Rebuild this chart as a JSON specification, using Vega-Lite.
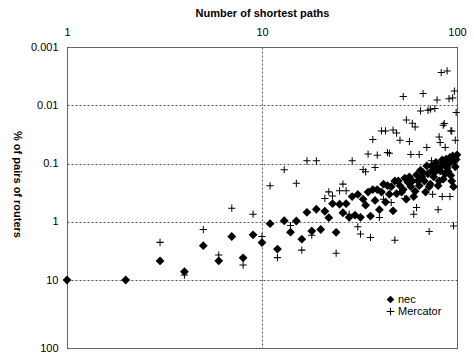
{
  "$schema": "https://vega.github.io/schema/vega-lite/v6.json",
  "width": 390,
  "height": 301,
  "autosize": {"type": "none"},
  "padding": {"left": 67, "top": 47, "right": 17, "bottom": 5},
  "background": "white",
  "config": {"font": "Liberation Sans", "view": {"stroke": "#777", "strokeWidth": 1}},
  "datasets": {
    "mercator": [
      {"k":3,"pct":2.26},{"k":4,"pct":8.24},{"k":5,"pct":1.36},{"k":6,"pct":3.74},{"k":7,"pct":0.585},{"k":8,"pct":5.55},{"k":9,"pct":0.74},{"k":10,"pct":1.8},
      {"k":11,"pct":0.242},{"k":12,"pct":4.13},{"k":13,"pct":0.128},{"k":14,"pct":1.16},{"k":15,"pct":0.219},{"k":16,"pct":3.07},{"k":17,"pct":0.09},{"k":18,"pct":1.7},{"k":19,"pct":0.09},
      {"k":21,"pct":0.398},{"k":22,"pct":0.307},{"k":23,"pct":0.36},{"k":24,"pct":3.46},{"k":25,"pct":0.295},{"k":26,"pct":0.226},{"k":27,"pct":0.295},{"k":28,"pct":0.74},{"k":29,"pct":0.09},
      {"k":31,"pct":1.22},{"k":32,"pct":1.63},{"k":33,"pct":0.127},{"k":34,"pct":0.139},{"k":35,"pct":0.069},{"k":36,"pct":1.86},{"k":37,"pct":0.0387},{"k":38,"pct":0.117},{"k":39,"pct":0.072},{"k":40,"pct":0.843},
      {"k":41,"pct":0.0276},{"k":42,"pct":0.41},{"k":43,"pct":0.0276},{"k":44,"pct":0.0647},{"k":45,"pct":0.0665},{"k":46,"pct":0.467},{"k":47,"pct":0.0266},{"k":48,"pct":2.07},{"k":49,"pct":0.03},
      {"k":51,"pct":0.0398},{"k":53,"pct":0.0071},{"k":54,"pct":0.4},{"k":55,"pct":0.0179},{"k":57,"pct":0.042},{"k":58,"pct":0.07},{"k":59,"pct":0.0204},{"k":60,"pct":0.74},
      {"k":61,"pct":0.0236},{"k":62,"pct":0.57},{"k":64,"pct":0.07},{"k":65,"pct":0.0125},{"k":67,"pct":0.0063},{"k":70,"pct":0.053},
      {"k":71,"pct":0.0122},{"k":72,"pct":1.47},{"k":73,"pct":0.0117},{"k":74,"pct":0.09},{"k":75,"pct":0.337},{"k":77,"pct":0.0114},{"k":79,"pct":0.0081},{"k":80,"pct":0.62},
      {"k":81,"pct":0.035},{"k":82,"pct":0.0437},{"k":83,"pct":0.00275},{"k":84,"pct":0.37},{"k":85,"pct":0.022},{"k":86,"pct":0.0206},{"k":87,"pct":0.053},{"k":89,"pct":0.00258},
      {"k":91,"pct":0.0077},{"k":92,"pct":0.37},{"k":93,"pct":0.0276},{"k":94,"pct":0.0276},{"k":95,"pct":0.0075},{"k":96,"pct":1.18},{"k":97,"pct":0.0057},{"k":98,"pct":0.0398},{"k":99,"pct":0.0133}
    ],
    "nec": [
      {"k":1,"pct":10},{"k":2,"pct":10},{"k":3,"pct":4.7},{"k":4,"pct":7.2},{"k":5,"pct":2.57},{"k":6,"pct":4.69},{"k":7,"pct":1.79},{"k":8,"pct":4.16},{"k":9,"pct":1.68},{"k":10,"pct":2.28},
      {"k":11,"pct":1.08},{"k":12,"pct":2.95},{"k":13,"pct":0.96},{"k":14,"pct":1.51},{"k":15,"pct":0.97},{"k":16,"pct":1.99},{"k":17,"pct":0.69},{"k":18,"pct":1.44},{"k":19,"pct":0.61},{"k":20,"pct":1.36},
      {"k":21,"pct":0.66},{"k":22,"pct":0.85},{"k":23,"pct":0.49},{"k":24,"pct":1.52},{"k":25,"pct":0.5},{"k":26,"pct":0.7},{"k":27,"pct":0.49},{"k":28,"pct":0.84},{"k":29,"pct":0.37},{"k":30,"pct":0.77},
      {"k":31,"pct":0.34},{"k":32,"pct":0.84},{"k":33,"pct":0.41},{"k":34,"pct":0.52},{"k":35,"pct":0.31},{"k":36,"pct":0.8},{"k":37,"pct":0.28},{"k":38,"pct":0.43},{"k":39,"pct":0.28},{"k":40,"pct":0.62},
      {"k":41,"pct":0.31},{"k":42,"pct":0.226},{"k":43,"pct":0.46},{"k":44,"pct":0.24},{"k":45,"pct":0.337},{"k":46,"pct":0.25},{"k":47,"pct":0.65},{"k":48,"pct":0.2},{"k":49,"pct":0.33},{"k":50,"pct":0.2},
      {"k":51,"pct":0.24},{"k":52,"pct":0.31},{"k":53,"pct":0.28},{"k":54,"pct":0.178},{"k":55,"pct":0.41},{"k":56,"pct":0.21},{"k":57,"pct":0.17},{"k":58,"pct":0.25},{"k":59,"pct":0.2},{"k":60,"pct":0.37},
      {"k":61,"pct":0.3},{"k":62,"pct":0.157},{"k":63,"pct":0.2},{"k":64,"pct":0.24},{"k":65,"pct":0.13},{"k":66,"pct":0.17},{"k":67,"pct":0.143},{"k":68,"pct":0.2},{"k":69,"pct":0.31},{"k":70,"pct":0.11},
      {"k":71,"pct":0.15},{"k":72,"pct":0.25},{"k":73,"pct":0.226},{"k":74,"pct":0.11},{"k":75,"pct":0.13},{"k":76,"pct":0.17},{"k":77,"pct":0.14},{"k":78,"pct":0.096},{"k":79,"pct":0.12},{"k":80,"pct":0.24},
      {"k":81,"pct":0.2},{"k":82,"pct":0.134},{"k":83,"pct":0.11},{"k":84,"pct":0.087},{"k":85,"pct":0.186},{"k":86,"pct":0.1},{"k":87,"pct":0.15},{"k":88,"pct":0.084},{"k":89,"pct":0.12},{"k":90,"pct":0.137},
      {"k":91,"pct":0.1},{"k":92,"pct":0.079},{"k":93,"pct":0.16},{"k":94,"pct":0.2},{"k":95,"pct":0.074},{"k":96,"pct":0.25},{"k":97,"pct":0.09},{"k":98,"pct":0.114},{"k":99,"pct":0.085},{"k":100,"pct":0.071}
    ]
  },
  "layer": [
    {
      "data": {"name": "mercator"},
      "transform": [{"calculate": "'Mercator'", "as": "series"}],
      "mark": {"type": "point", "filled": true, "size": 52, "color": "black", "strokeWidth": 0, "opacity": 1},
      "encoding": {
        "x": {"field": "k", "type": "quantitative"},
        "y": {"field": "pct", "type": "quantitative"},
        "shape": {"field": "series", "type": "nominal"}
      }
    },
    {
      "data": {"name": "nec"},
      "transform": [{"calculate": "'nec'", "as": "series"}],
      "mark": {"type": "point", "filled": true, "size": 78, "color": "black", "strokeWidth": 0, "opacity": 1},
      "encoding": {
        "x": {"field": "k", "type": "quantitative"},
        "y": {"field": "pct", "type": "quantitative"},
        "shape": {"field": "series", "type": "nominal"}
      }
    }
  ],
  "encoding": {
    "x": {
      "field": "k", "type": "quantitative",
      "scale": {"type": "log", "domain": [1, 100], "nice": false},
      "axis": {"orient": "top", "values": [1, 10, 100], "format": "~g", "title": "Number of shortest paths",
        "ticks": false, "domain": false, "grid": true, "gridDash": [2, 2], "gridColor": "#555",
        "labelFontSize": 11, "labelColor": "black", "labelPadding": 10, "labelFlush": false,
        "titleFontSize": 11, "titleFontWeight": "bold", "titleColor": "black", "titlePadding": 8}
    },
    "y": {
      "field": "pct", "type": "quantitative",
      "scale": {"type": "log", "domain": [0.001, 10, 100], "range": [0, 233, 301], "nice": false},
      "axis": {"values": [0.001, 0.01, 0.1, 1, 10, 100], "format": "~g", "title": "% of pairs of routers",
        "ticks": false, "domain": false, "grid": true, "gridDash": [2, 2], "gridColor": "#555",
        "labelFontSize": 11, "labelColor": "black", "labelPadding": 9,
        "titleFontSize": 11, "titleFontWeight": "bold", "titleColor": "black", "titleAngle": 90,
        "titleX": -51, "titleY": 137, "titleAlign": "center", "titleBaseline": "middle"}
    },
    "shape": {
      "field": "series", "type": "nominal",
      "scale": {"domain": ["nec", "Mercator"], "range": ["diamond", "M-1,-0.14H-0.14V-1H0.14V-0.14H1V0.14H0.14V1H-0.14V0.14H-1Z"]},
      "legend": {"orient": "none", "legendX": 318, "legendY": 247, "title": null, "padding": 0, "rowPadding": 0,
        "labelFontSize": 11, "labelColor": "black", "labelOffset": 2, "symbolSize": 60,
        "symbolFillColor": "black", "symbolStrokeWidth": 0, "symbolOpacity": 1,
        "encode": {"symbols": {"update": {"fill": {"value": "black"}, "opacity": {"value": 1}}}}}
    }
  }
}
